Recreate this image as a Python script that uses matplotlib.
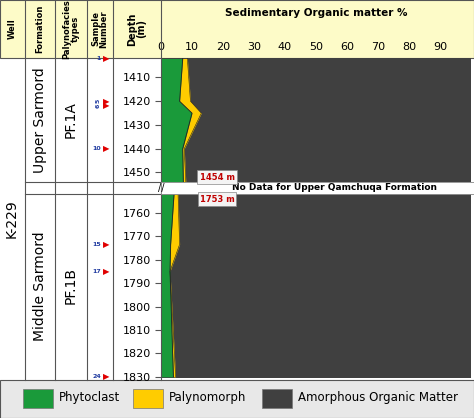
import matplotlib.pyplot as plt
from matplotlib.patches import Rectangle

# upper interval (Upper Sarmord)
depth_top = [1402, 1420, 1425, 1440, 1454]
phyto_top = [7.0, 6.0, 10.0, 7.0, 7.2]
paly_top = [1.5, 3.5, 3.0, 0.5, 0.8]
# lower interval (Middle Sarmord)
depth_bot = [1752, 1773.5, 1785, 1830]
phyto_bot = [4.2, 3.1, 2.9, 4.0]
paly_bot = [1.3, 2.9, 0.0, 0.7]

samples = ['1', '5', '6', '10', '15', '17', '24']
sample_depths = [1402, 1420, 1422, 1440, 1773.5, 1785, 1830]

GREEN, YELLOW, DARK = '#1a9a3a', '#ffcc00', '#404040'
HEAD = '#fdfbc8'

W, H = 474, 418
fig = plt.figure(figsize=(W / 100, H / 100), dpi=100)
fig.patch.set_facecolor('white')


def fx(x):
    return x / W


def fy(y):
    return 1 - y / H


def rect(x0, y0, x1, y1, **kw):
    fig.patches.append(Rectangle((fx(x0), fy(y1)), fx(x1) - fx(x0), fy(y0) - fy(y1),
                                 transform=fig.transFigure, **kw))


def hline(y, x0, x1, c='#555555', lw=0.8):
    fig.add_artist(plt.Line2D([fx(x0), fx(x1)], [fy(y), fy(y)], color=c, lw=lw))


def vline(x, y0, y1, c='#555555', lw=0.8):
    fig.add_artist(plt.Line2D([fx(x), fx(x)], [fy(y0), fy(y1)], color=c, lw=lw))


# header
rect(0, 0, W, 58, facecolor=HEAD, edgecolor='#555555', lw=0.8, zorder=-1)
heads = [(12, 'Well', 6), (40, 'Formation', 6), (71, 'Palynofacies\ntypes', 6),
         (100, 'Sample\nNumber', 6), (137, 'Depth\n(m)', 7)]
for x, t, fs in heads:
    fig.text(fx(x), fy(29), t, rotation=90, ha='center', va='center', fontsize=fs,
             fontweight='bold', linespacing=0.9)
fig.text(fx(316), fy(13), 'Sedimentary Organic matter %', ha='center', va='center',
         fontsize=7.5, fontweight='bold')

# column lines
for x in [25, 55, 87, 113, 161]:
    vline(x, 0, 380)
for y in [182, 194]:
    hline(y, 25, 161)

fig.text(fx(12), fy(219), 'K-229', rotation=90, ha='center', va='center', fontsize=10)
fig.text(fx(40), fy(120), 'Upper Sarmord', rotation=90, ha='center', va='center', fontsize=10)
fig.text(fx(40), fy(286), 'Middle Sarmord', rotation=90, ha='center', va='center', fontsize=10)
fig.text(fx(71), fy(120), 'PF.1A', rotation=90, ha='center', va='center', fontsize=10)
fig.text(fx(71), fy(286), 'PF.1B', rotation=90, ha='center', va='center', fontsize=10)

ax_t = fig.add_axes([fx(161), fy(182), fx(471) - fx(161), fy(58) - fy(182)])
ax_b = fig.add_axes([fx(161), fy(378), fx(471) - fx(161), fy(194) - fy(378)])

for ax, d, p, q, lim in [(ax_t, depth_top, phyto_top, paly_top, (1454, 1401.8)),
                         (ax_b, depth_bot, phyto_bot, paly_bot, (1830.5, 1752))]:
    ax.set_facecolor(DARK)
    tot = [a + b for a, b in zip(p, q)]
    ax.fill_betweenx(d, 0, p, color=GREEN, lw=0)
    ax.fill_betweenx(d, p, tot, color=YELLOW, lw=0)
    ax.plot(p, d, color='#222222', lw=0.6)
    ax.plot(tot, d, color='#222222', lw=0.4)
    ax.set_xlim(0, 100)
    ax.set_ylim(*lim)
    for s in ax.spines.values():
        s.set_visible(False)
    ax.tick_params(axis='y', labelsize=8, length=4, color='#555555')

ax_t.set_yticks(range(1410, 1451, 10))
ax_b.set_yticks(range(1760, 1831, 10))
ax_b.set_xticks([])
ax_t.xaxis.tick_top()
ax_t.set_xticks(range(0, 91, 10))
ax_t.tick_params(axis='x', labelsize=8, length=0, pad=4)

# sample markers
for s, dep in zip(samples, sample_depths):
    if dep < 1500:
        base, top, y0, y1 = 1401.8, 1454, 58, 182
    else:
        base, top, y0, y1 = 1752, 1830.5, 194, 378
    y = y0 + (dep - base) / (top - base) * (y1 - y0)
    fig.text(fx(106), fy(y), '\u25B6', color='#e00000', ha='center', va='center', fontsize=6)
    fig.text(fx(101), fy(y), s, color='#1f3aa0', ha='right', va='center', fontsize=4.5,
             fontweight='bold', rotation=90 if s in ('5', '6') else 0)

# break band
rect(161, 182, W, 194, facecolor='white', edgecolor='#888888', lw=0.6, zorder=5)
fig.text(fx(335), fy(188), 'No Data for Upper Qamchuqa Formation', ha='center',
         va='center', fontsize=6.5, fontweight='bold', zorder=6)
for y, t in [(177, '1454 m'), (199, '1753 m')]:
    fig.text(fx(217), fy(y), t, color='#c00000', ha='center', va='center', fontsize=6,
             fontweight='bold', zorder=7,
             bbox=dict(boxstyle='square,pad=0.25', fc='#f4f4f4', ec='#888888', lw=0.5))
fig.text(fx(161), fy(188), '//', ha='center', va='center', fontsize=7, zorder=7)

# legend
rect(0, 380, W, 418, facecolor='#e8e8e8', edgecolor='#555555', lw=0.8, zorder=-1)
for x, c, t in [(23, GREEN, 'Phytoclast'), (133, YELLOW, 'Palynomorph'),
                (262, DARK, 'Amorphous Organic Matter')]:
    rect(x, 389, x + 30, 408, facecolor=c, edgecolor='#777777', lw=0.5)
    fig.text(fx(x + 36), fy(398), t, ha='left', va='center', fontsize=8.5)

fig.savefig('out.png', dpi=100)
